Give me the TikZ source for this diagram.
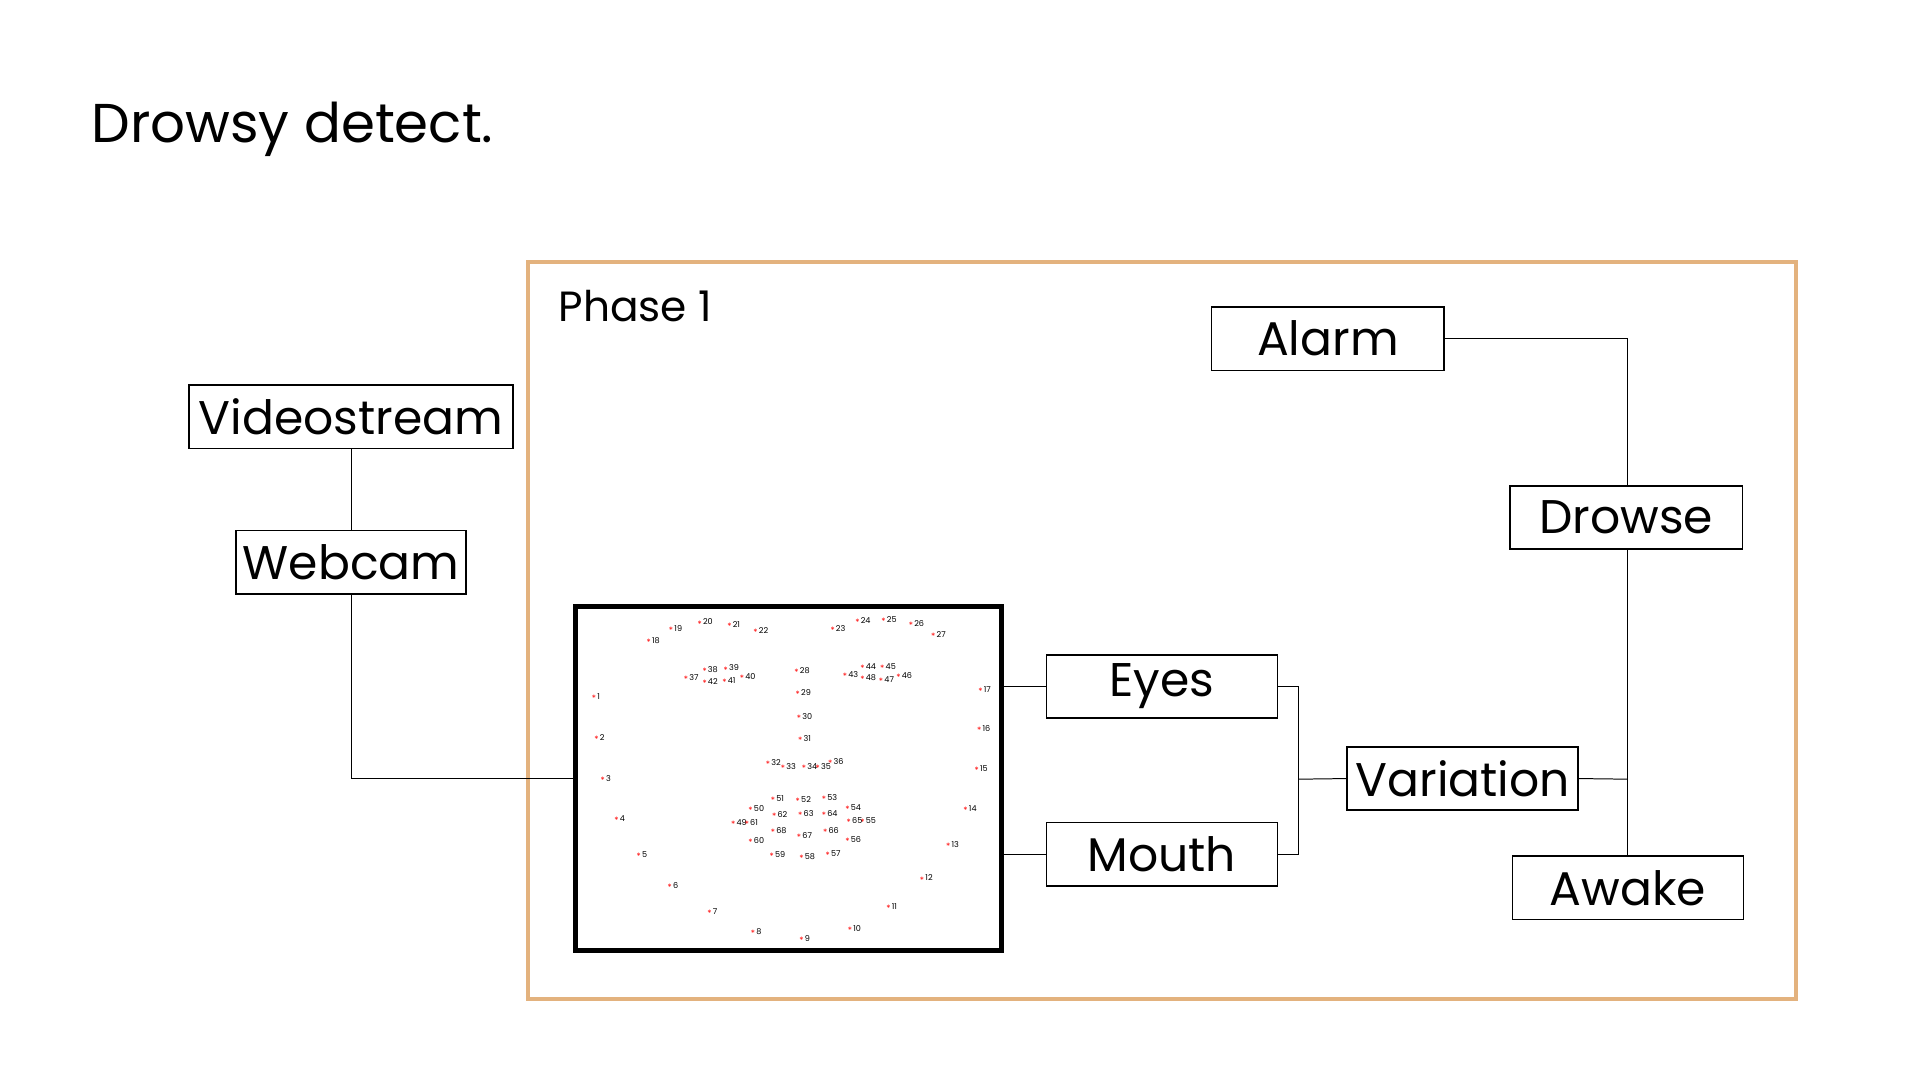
\documentclass[tikz,border=0pt]{standalone}
\usepackage{fontspec}
\setmainfont{Poppins}
\begin{document}
\begin{tikzpicture}[x=1pt,y=-1pt,
  box/.style={draw,line width=1.3pt,inner sep=0pt,font=\fontsize{38}{40}\selectfont},
  ln/.style={line width=0.8pt},
  lm/.style={font=\fontsize{6.5}{7}\selectfont,inner sep=0pt,anchor=west}]
\useasboundingbox (0,0) rectangle (1545,869);
\node[anchor=west,font=\fontsize{44}{46}\selectfont] (title) at (70,104) {Drowsy detect.};
\draw[draw={rgb,255:red,227;green,178;blue,126},line width=3.5pt] (425,211) rectangle (1445,804);
\node[anchor=west,font=\fontsize{34}{36}\selectfont] (phase) at (446,246) {Phase 1};
\newcommand{\mybox}[5]{\node[box,minimum width=#3-#1,minimum height=#4-#2] (#5) at ({(#1+#3)/2},{(#2+#4)/2}) {};}
\mybox{975}{247}{1162}{298}{alarm}\node[font=\fontsize{38}{40}\selectfont] at (alarm) {Alarm};
\mybox{152}{310}{413}{361}{video}\node[font=\fontsize{38}{40}\selectfont] at (video) {Videostream};
\mybox{190}{427}{375}{478}{webcam}\node[font=\fontsize{38}{40}\selectfont] at (webcam) {Webcam};
\mybox{1215}{391}{1402}{442}{drowse}\node[font=\fontsize{38}{40}\selectfont] at (drowse) {Drowse};
\mybox{842}{527}{1028}{578}{eyes}\node[font=\fontsize{38}{40}\selectfont] at (eyes) {Eyes};
\mybox{842}{662}{1028}{713}{mouth}\node[font=\fontsize{38}{40}\selectfont] at (mouth) {Mouth};
\mybox{1084}{601}{1270}{652}{variation}\node[font=\fontsize{38}{40}\selectfont] at (variation) {Variation};
\mybox{1217}{689}{1403}{740}{awake}\node[font=\fontsize{38}{40}\selectfont] at (awake) {Awake};
\node[draw,line width=4pt,minimum width=343,minimum height=277,inner sep=0pt] (face) at (634.5,626.5) {};
% connectors
\draw[ln] (video.south) -- (webcam.north);
\draw[ln] (webcam.south) |- (face.west);
\draw[ln] (face.east |- eyes.west) -- (eyes.west);
\draw[ln] (face.east |- mouth.west) -- (mouth.west);
\coordinate (j1) at (1045,627);
\draw[ln] (eyes.east) -| (j1) |- (mouth.east);
\draw[ln] (j1) -- (variation.west);
\coordinate (j2) at (1310,627);
\draw[ln] (variation.east) -- (j2);
\draw[ln] (drowse.south -| j2) -- (awake.north -| j2);
\draw[ln] (alarm.east) -| (drowse.north -| j2);
% landmarks
\foreach \x/\y/\n in {478/561/1,480/594/2,485/627/3,496/659/4,514/688/5,539/713/6,571/734/7,606/750/8,645/756/9,684/748/10,715/730/11,742/707/12,763/680/13,777/651/14,786/619/15,788/587/16,789/555/17,
522/516/18,540/506/19,563/501/20,587/503/21,608/508/22,670/506/23,690/500/24,711/499/25,733/502/26,751/511/27,
641/540/28,642/558/29,643/577/30,644/595/31,618/614/32,630/617/33,647/617/34,658/617/35,668/613/36,
552/546/37,567/539/38,584/538/39,597/545/40,583/548/41,567/549/42,680/543/43,694/537/44,710/537/45,723/544/46,709/547/47,694/546/48,
590/662/49,604/651/50,622/643/51,642/644/52,663/642/53,682/650/54,694/661/55,682/676/56,666/687/57,645/690/58,621/688/59,604/677/60,601/662/61,623/656/62,644/655/63,663/655/64,683/661/65,664/669/66,643/673/67,622/669/68}{
  \node[text=red,inner sep=0pt,font=\fontsize{7}{7}\selectfont] (p\n) at (\x,\y+1) {*};
  \node[lm] (l\n) at (\x+2.5,\y-0.5) {\n};
}
\end{tikzpicture}
\end{document}
